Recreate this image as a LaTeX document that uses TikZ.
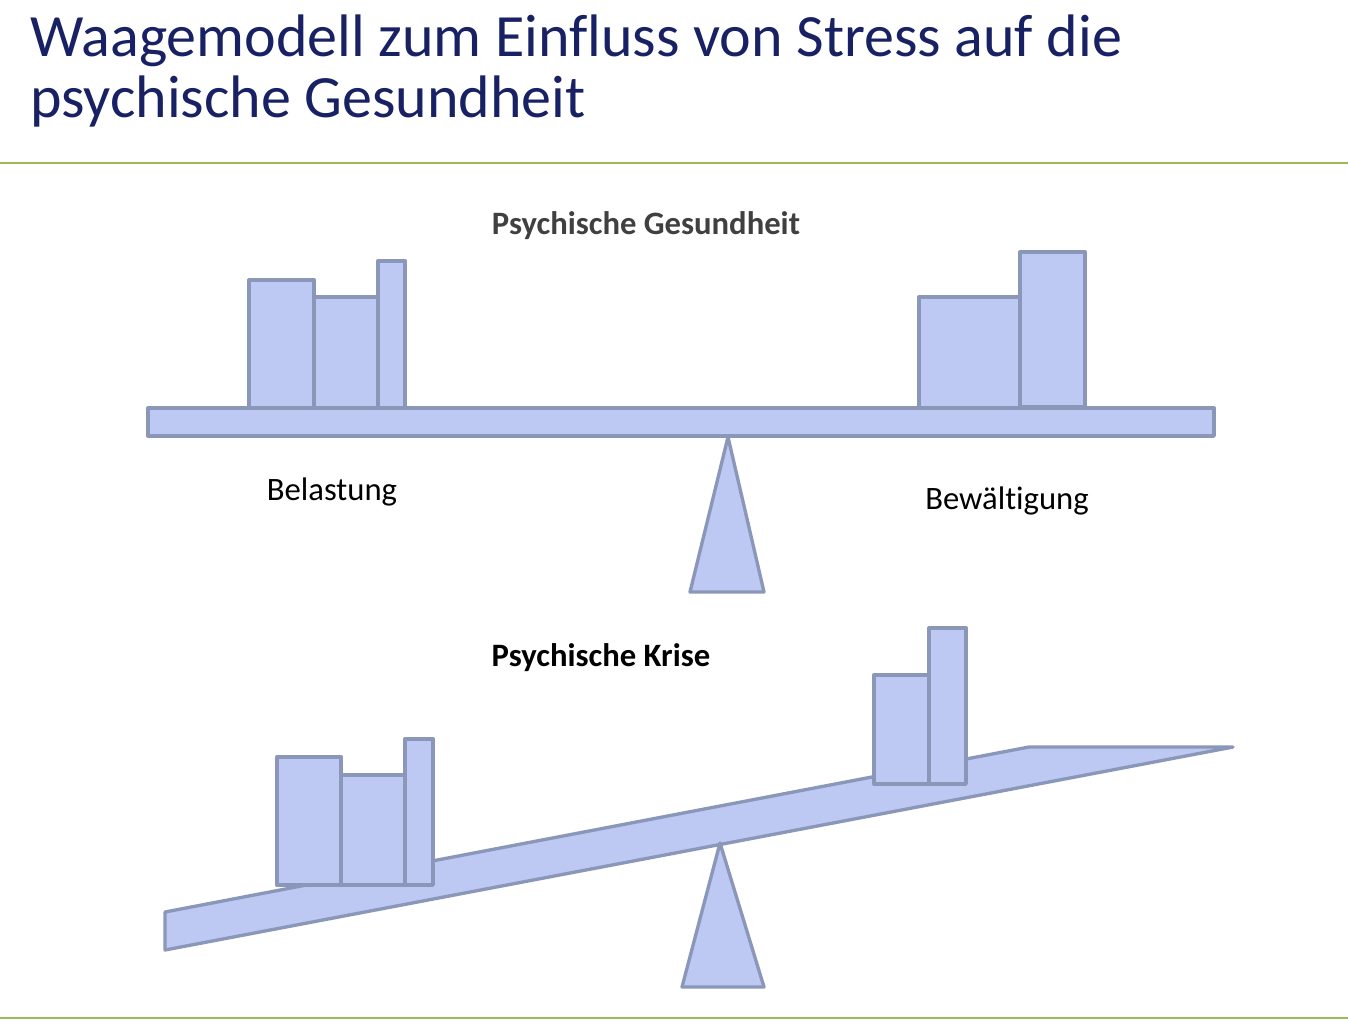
\documentclass[tikz,border=0pt]{standalone}
\usepackage{fontspec}
\setmainfont{Carlito}[Ligatures=NoCommon]
\definecolor{titleblue}{RGB}{24,33,100}
\definecolor{rulegreen}{RGB}{155,187,89}
\definecolor{boxfill}{RGB}{189,201,243}
\definecolor{boxline}{RGB}{138,151,184}
\definecolor{darktext}{RGB}{64,64,64}
\tikzset{
  part/.style={fill=boxfill,draw=boxline,line width=2.5pt,line join=round},
  titletext/.style={anchor=base west,inner sep=0,font=\fontsize{45}{54}\selectfont,text=titleblue},
  heading/.style={anchor=base,inner sep=0,font=\fontsize{24.5}{29}\selectfont\bfseries},
  label/.style={anchor=base,inner sep=0,font=\fontsize{24.5}{29}\selectfont,text=black},
  greenrule/.style={draw=rulegreen,line width=1.5pt}
}
\begin{document}
\begin{tikzpicture}[x=0.75pt,y=-0.75pt]
\useasboundingbox (0,0) rectangle (1348,1034);
% title
\node[titletext] (t1) at (30,57) {Waagemodell zum Einfluss von Stress auf die};
\node[titletext] (t2) at (30,118) {psychische Gesundheit};
\draw[greenrule] (0,163) -- (1348,163);
\draw[greenrule] (0,1018) -- (1348,1018);
% upper balance
\node[heading,text=darktext] (h1) at (646,235) {Psychische Gesundheit};
\draw[part] (148,408) rectangle (1214,436);
\draw[part] (249,280) rectangle (314,408);
\draw[part] (314,297) rectangle (378,408);
\draw[part] (378,261) rectangle (405,408);
\draw[part] (919,297) rectangle (1020,408);
\draw[part] (1020,252) rectangle (1085,407);
\draw[part] (728,437) -- (764,592) -- (690,592) -- cycle;
\node[label] (bel) at (332,500) {Belastung};
\node[label] (bew) at (1007,509) {Bewält\kern0pt igung};
% lower balance
\node[heading,text=black] (h2) at (601,666) {Psychische Krise};
\draw[part] (165,912) -- (1029,747) -- (1233,747) -- (165,950) -- cycle;
\draw[part] (277,757) rectangle (341,885);
\draw[part] (341,775) rectangle (405,885);
\draw[part] (405,739) rectangle (433,885);
\draw[part] (874,675) rectangle (929,784);
\draw[part] (929,628) rectangle (966,784);
\draw[part] (720,843) -- (764,987) -- (682,987) -- cycle;
\end{tikzpicture}
\end{document}
